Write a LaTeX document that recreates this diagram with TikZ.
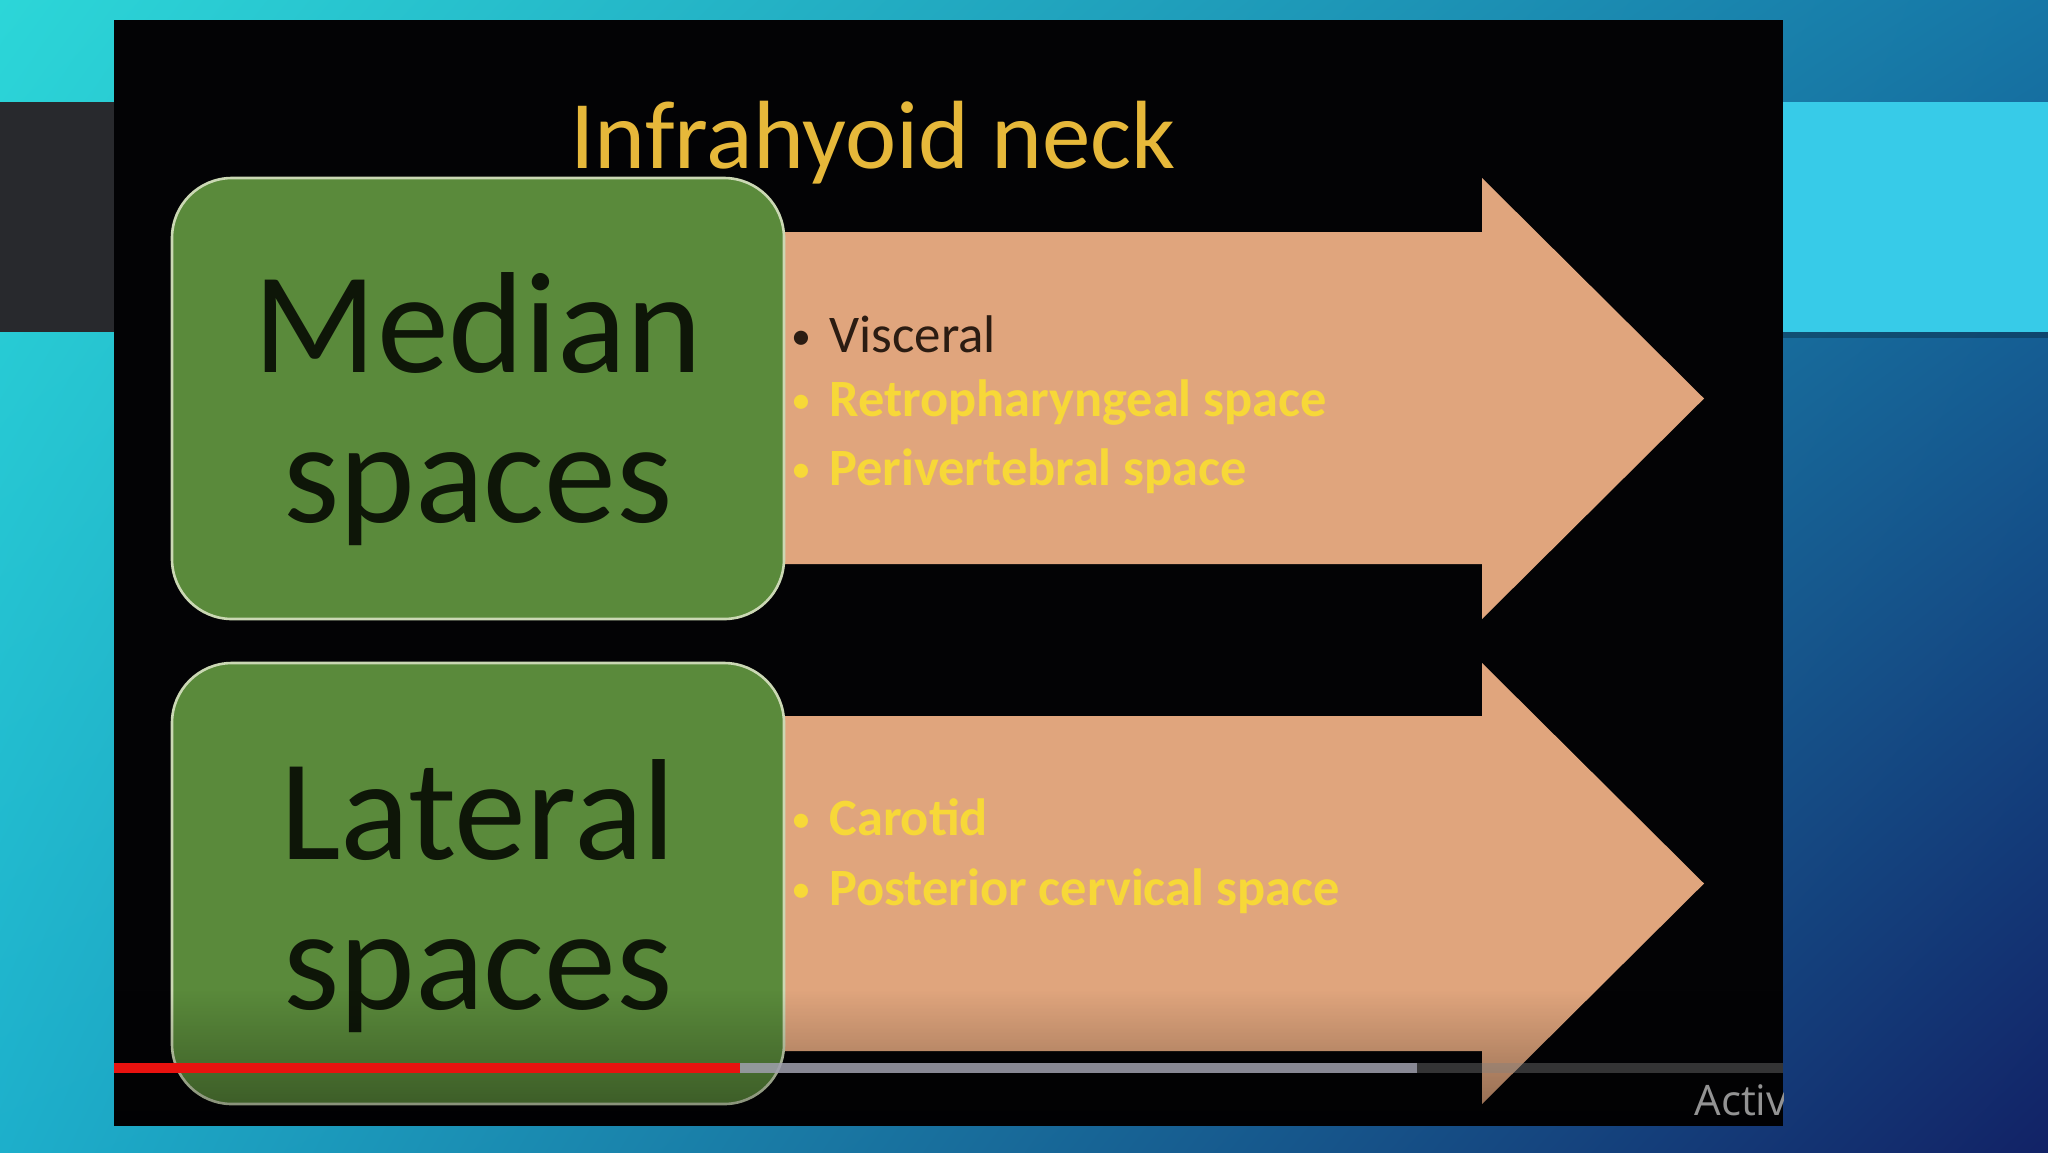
\documentclass[tikz,border=0pt]{standalone}
\usepackage{fontspec}
\usetikzlibrary{shadings,fadings}
\setmainfont{Carlito}
\newfontfamily\winfont{Open Sans}
\definecolor{slideblack}{HTML}{030305}
\definecolor{boxgreen}{HTML}{5A8A3B}
\definecolor{boxedge}{HTML}{CBD8B4}
\definecolor{peach}{HTML}{E0A57D}
\definecolor{titlegold}{HTML}{E6B83A}
\definecolor{itemyellow}{HTML}{F7D838}
\definecolor{itemdark}{HTML}{2B1C12}
\definecolor{bigtext}{HTML}{0E1608}
\definecolor{bgcyan}{HTML}{37CBE8}
\definecolor{bgdark}{HTML}{28292D}
\definecolor{barred}{HTML}{E8120F}
\definecolor{bargray}{HTML}{A0A0AE}
\definecolor{bgul}{HTML}{2CD6D8}
\definecolor{bgur}{HTML}{1676A6}
\definecolor{bgll}{HTML}{1DAFCB}
\definecolor{bglr}{HTML}{122266}
\newcommand{\bul}{\llap{\raisebox{1.2pt}{\fontsize{20}{20}\selectfont\mdseries\textbullet}\hspace{9.1pt}}}
\tikzfading[name=fadedown, top color=transparent!100, bottom color=transparent!62]

\begin{document}
\begin{tikzpicture}[x=0.5pt,y=0.5pt,yscale=-1,
  spacebox/.style={draw=boxedge, line width=1.3pt, fill=boxgreen, rounded corners=30pt,
    minimum width=306pt, minimum height=220.5pt, inner sep=0pt},
  biglbl/.style={align=center, text=bigtext, inner sep=0pt,
    font=\fontsize{72}{75}\selectfont},
  itemdk/.style={anchor=base west, inner sep=0pt, text=itemdark,
    font=\fontsize{26.5}{30}\selectfont},
  itemyl/.style={anchor=base west, inner sep=0pt, text=itemyellow,
    font=\bfseries\fontsize{26.2}{30}\selectfont}]
\useasboundingbox (0,0) rectangle (2048,1152);
%Shape: Background
\shade[upper left=bgul, upper right=bgur, lower left=bgll, lower right=bglr]
  (0,0) rectangle (2048,1152);
%Shape: Rectangle
\fill[bgdark] (0,102) rectangle (114,332);
%Shape: Rectangle
\fill[black, opacity=0.25] (1783,332) rectangle (2048,338);
\fill[bgcyan] (1783,102) rectangle (2048,332);
%Shape: Slide
\fill[slideblack] (114,20) rectangle (1783,1126);
% Text Node
\node[text=titlegold, font=\fontsize{48.5}{52}\selectfont, anchor=base] (title) at (873,168) {Infrahyoid neck};
%Shape: Right Arrow
\fill[peach] (700,232) -- (1482,232) -- (1482,178) -- (1704,398.5) -- (1482,619) -- (1482,564) -- (700,564) -- cycle;
%Shape: Right Arrow
\fill[peach] (700,716) -- (1482,716) -- (1482,663) -- (1704,883.5) -- (1482,1104) -- (1482,1051) -- (700,1051) -- cycle;
%Shape: Rounded Rect
\node[spacebox] (median) at (478,398.5) {};
%Shape: Rounded Rect
\node[spacebox] (lateral) at (478,883.5) {};
% Text Node
\node[biglbl, anchor=base] (medianlbl) at (478,522) {Median\\spaces};
% Text Node
\node[biglbl, anchor=base] (laterallbl) at (478,1009) {Lateral\\spaces};
% Text Node
\node[itemdk] (visc) at (829,352) {\bul Visceral};
% Text Node
\node[itemyl] (retro) at (829,416) {\bul Retropharyngeal space};
% Text Node
\node[itemyl] (peri) at (829,485) {\bul Perivertebral space};
% Text Node
\node[itemyl] (carot) at (829,835) {\bul Carotid};
% Text Node
\node[itemyl] (post) at (829,905) {\bul Posterior cervical space};
%Shape: Player Shade
\fill[black, path fading=fadedown] (114,990) rectangle (1783,1126);
%Shape: Progress Bar
\fill[barred] (114,1063) rectangle (740,1073);
\fill[bargray, opacity=0.85] (740,1063) rectangle (1417,1073);
\fill[gray, opacity=0.4] (1417,1063) rectangle (1783,1073);
\begin{scope}
\clip (114,20) rectangle (1783,1126);
% Text Node
\node[anchor=base west, inner sep=0pt, text=gray!85, font=\winfont\fontsize{21}{24}\selectfont] (activ) at (1694,1115) {Activ};
\end{scope}
\end{tikzpicture}
\end{document}
